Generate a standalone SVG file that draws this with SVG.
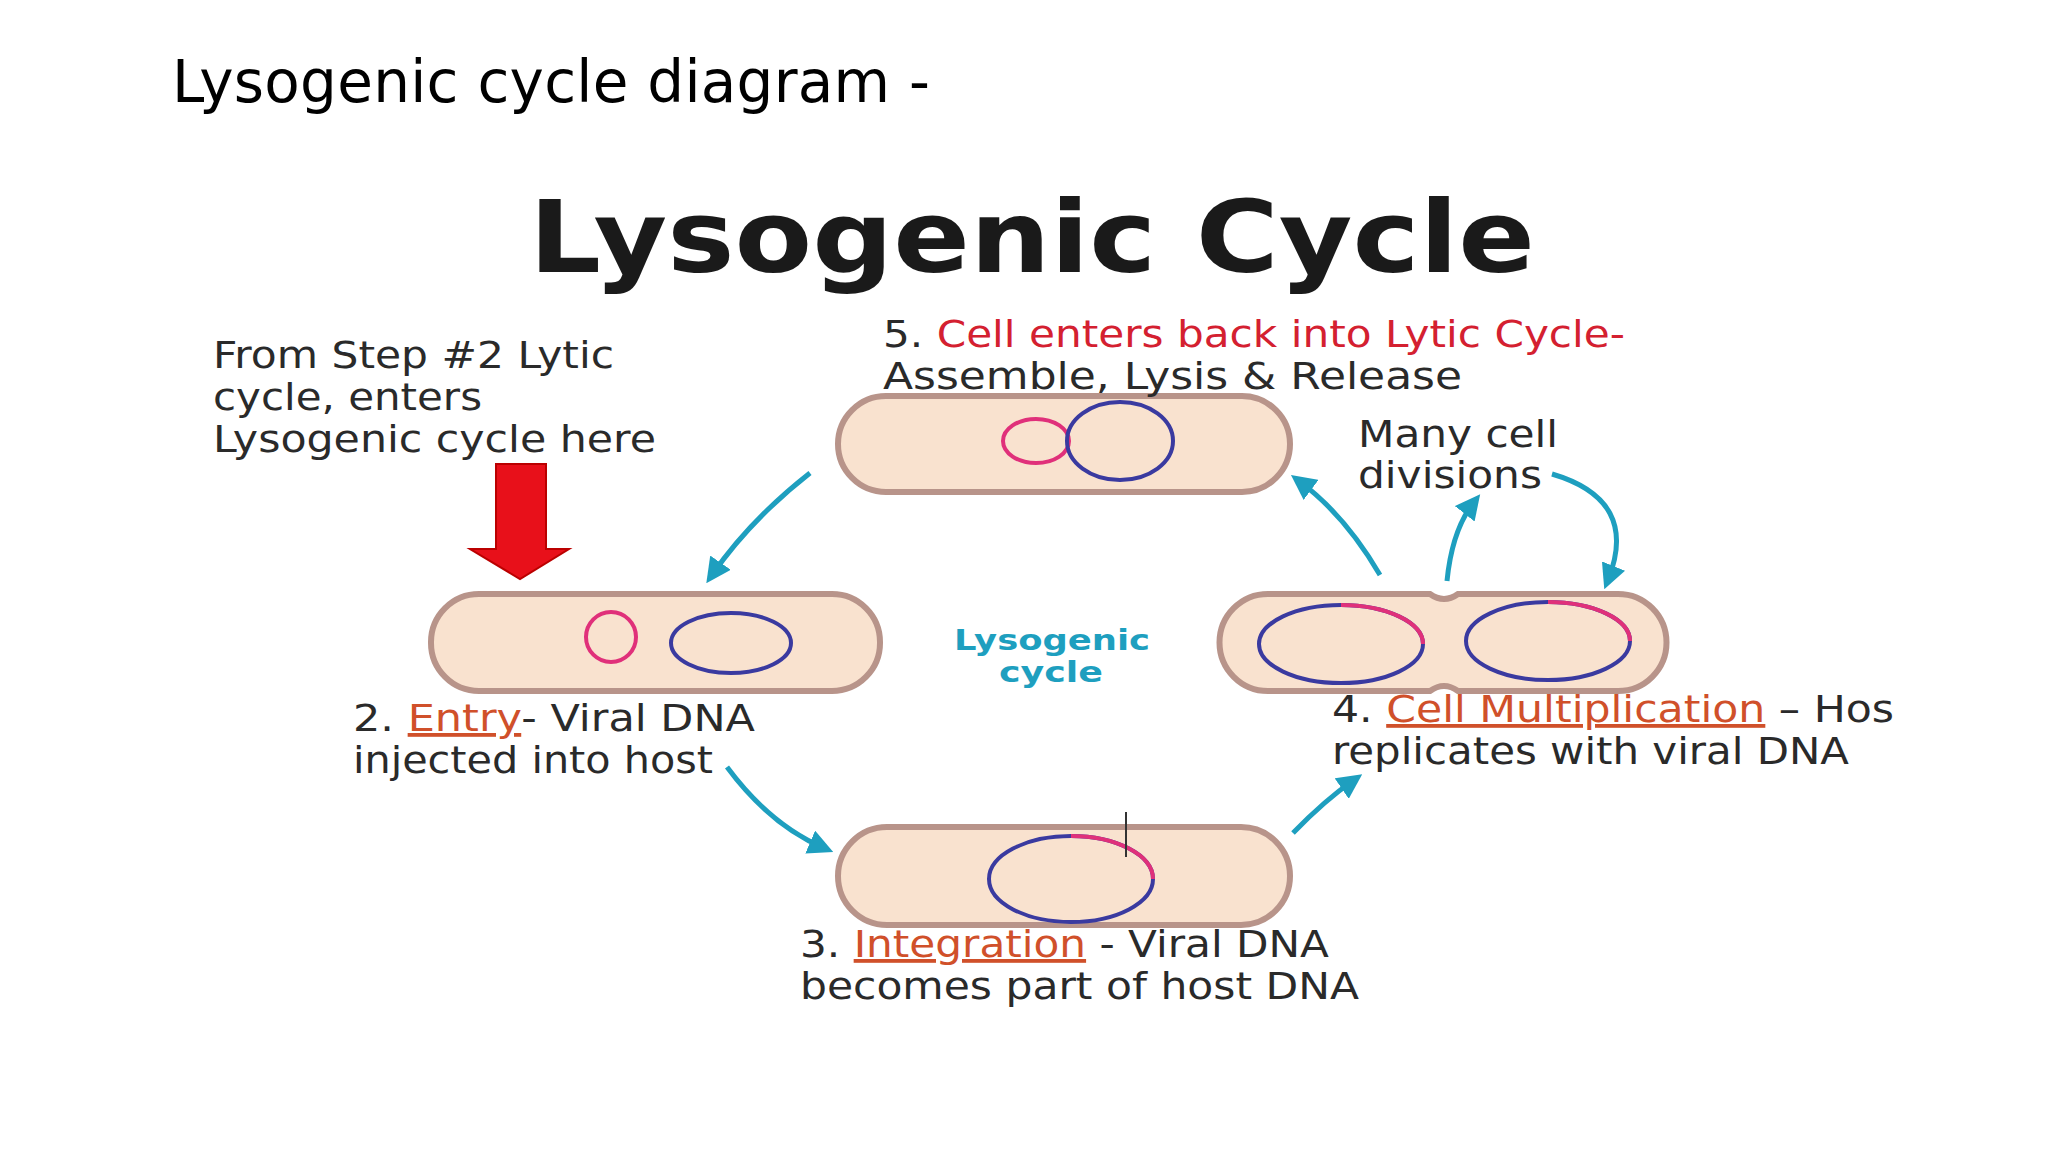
<svg xmlns="http://www.w3.org/2000/svg" width="2048" height="1152" viewBox="0 0 2048 1152">
<defs>
<style>
.t{font-family:"DejaVu Sans",Verdana,sans-serif;font-size:38px;fill:#2a2a2a}
.r{fill:#d42030}
.o{fill:#d0502a;text-decoration:underline}
.cell{fill:#f9e2cf;stroke:#b8948a;stroke-width:6}
.b{fill:none;stroke:#3a3aa0;stroke-width:4}
.p{fill:none;stroke:#e0307a;stroke-width:4}
.a{fill:none;stroke:#1e9fbf;stroke-width:5;marker-end:url(#ah)}
</style>
<marker id="ah" viewBox="0 0 10 10" refX="6" refY="5" markerWidth="5" markerHeight="5" orient="auto"><path d="M0,0 L10,5 L0,10 z" fill="#1e9fbf"/></marker>
</defs>
<rect width="2048" height="1152" fill="#fff"/>
<text x="172" y="102" font-family="DejaVu Sans,sans-serif" font-size="58" fill="#000" textLength="758">Lysogenic cycle diagram -</text>
<text x="529" y="272" font-family="DejaVu Sans,sans-serif" font-weight="bold" font-size="100" fill="#1a1a1a" textLength="1006" lengthAdjust="spacingAndGlyphs">Lysogenic Cycle</text>

<g id="cell-top"><rect class="cell" x="838" y="396" width="452" height="96" rx="48"/>
<ellipse class="p" cx="1036" cy="441" rx="33" ry="22"/><ellipse class="b" cx="1120" cy="441" rx="53" ry="39"/></g>
<g id="cell-left"><rect class="cell" x="431" y="594" width="449" height="97" rx="48"/>
<circle class="p" cx="611" cy="637" r="25"/><ellipse class="b" cx="731" cy="643" rx="60" ry="30"/></g>
<g id="cell-bottom"><rect class="cell" x="838" y="827" width="452" height="98" rx="49"/>
<ellipse class="b" cx="1071" cy="879" rx="82" ry="43"/><path class="p" d="M1071,836 A82,43 0 0 1 1153,879"/>
<line x1="1126" y1="812" x2="1126" y2="857" stroke="#333" stroke-width="2"/></g>
<g id="cell-right"><path class="cell" d="M1268,594 H1430 Q1444,604 1458,594 H1618 A48,48 0 0 1 1618,691 H1458 Q1444,681 1430,691 H1268 A48,48 0 0 1 1268,594 Z"/>
<ellipse class="b" cx="1341" cy="644" rx="82" ry="39"/><path class="p" d="M1341,605 A82,39 0 0 1 1423,644"/>
<ellipse class="b" cx="1548" cy="641" rx="82" ry="39"/><path class="p" d="M1548,602 A82,39 0 0 1 1630,641"/></g>

<g id="red-arrow"><path d="M496,464 H546 V549 H569 L520,579 L470,549 H496 Z" fill="#e8101a" stroke="#b00" stroke-width="2"/></g>

<g id="connectors">
<path class="a" d="M810,473 Q750,520 712,575"/>
<path class="a" d="M727,767 Q770,825 824,848"/>
<path class="a" d="M1293,833 Q1325,800 1354,780"/>
<path class="a" d="M1380,575 Q1345,515 1299,481"/>
<path class="a" d="M1447,581 Q1452,530 1474,502"/>
<path class="a" d="M1552,474 Q1640,500 1608,580"/>
</g>

<g id="labels">
<text class="t" x="213" y="368" textLength="401" lengthAdjust="spacingAndGlyphs">From Step #2 Lytic</text>
<text class="t" x="213" y="410" textLength="269" lengthAdjust="spacingAndGlyphs">cycle, enters</text>
<text class="t" x="213" y="452" textLength="443" lengthAdjust="spacingAndGlyphs">Lysogenic cycle here</text>
<text class="t" x="883" y="347" textLength="742" lengthAdjust="spacingAndGlyphs">5. <tspan class="r">Cell enters back into Lytic Cycle-</tspan></text>
<text class="t" x="883" y="389" textLength="579" lengthAdjust="spacingAndGlyphs">Assemble, Lysis &amp; Release</text>
<text class="t" x="1358" y="447" textLength="200" lengthAdjust="spacingAndGlyphs">Many cell</text>
<text class="t" x="1358" y="488" textLength="184" lengthAdjust="spacingAndGlyphs">divisions</text>
<text class="t" x="353" y="731" textLength="402" lengthAdjust="spacingAndGlyphs">2. <tspan class="o">Entry</tspan>- Viral DNA</text>
<text class="t" x="353" y="773" textLength="360" lengthAdjust="spacingAndGlyphs">injected into host</text>
<text class="t" x="1332" y="722" textLength="562" lengthAdjust="spacingAndGlyphs">4. <tspan class="o">Cell Multiplication</tspan> – Hos</text>
<text class="t" x="1332" y="764" textLength="517" lengthAdjust="spacingAndGlyphs">replicates with viral DNA</text>
<text class="t" x="800" y="957" textLength="529" lengthAdjust="spacingAndGlyphs">3. <tspan class="o">Integration</tspan> - Viral DNA</text>
<text class="t" x="800" y="999" textLength="559" lengthAdjust="spacingAndGlyphs">becomes part of host DNA</text>
<text x="954" y="650" font-family="DejaVu Sans,sans-serif" font-weight="bold" font-size="28" fill="#1e9fbf" textLength="196" lengthAdjust="spacingAndGlyphs">Lysogenic</text>
<text x="999" y="682" font-family="DejaVu Sans,sans-serif" font-weight="bold" font-size="28" fill="#1e9fbf" textLength="104" lengthAdjust="spacingAndGlyphs">cycle</text>
</g>
</svg>
